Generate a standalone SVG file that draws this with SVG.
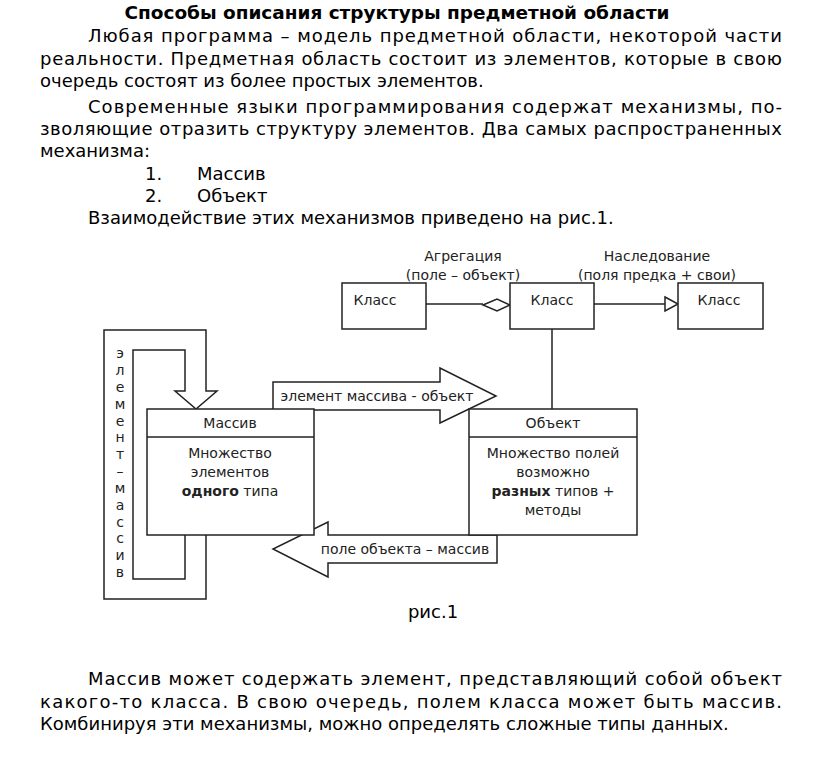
<svg xmlns="http://www.w3.org/2000/svg" width="816" height="759" viewBox="0 0 816 759">
<style>
.t{font-family:"DejaVu Sans",Verdana,sans-serif;font-size:18px;fill:#000}
.d{font-family:"DejaVu Sans",Verdana,sans-serif;font-size:14px;fill:#222;text-anchor:middle}
.b{fill:#fff;stroke:#222;stroke-width:1.5}
.l{fill:none;stroke:#222;stroke-width:1.5}
</style>
<rect width="816" height="759" fill="#fff"/>
<text class="t" x="397" y="19" text-anchor="middle" font-weight="bold" textLength="545" lengthAdjust="spacingAndGlyphs">Способы описания структуры предметной области</text>
<text class="t" x="88" y="42" textLength="694" lengthAdjust="spacing">Любая программа – модель предметной области, некоторой части</text>
<text class="t" x="40" y="65" textLength="742" lengthAdjust="spacing">реальности. Предметная область состоит из элементов, которые в свою</text>
<text class="t" x="40" y="87">очередь состоят из более простых элементов.</text>
<text class="t" x="88" y="113" textLength="694" lengthAdjust="spacing">Современные языки программирования содержат механизмы, по-</text>
<text class="t" x="40" y="135" textLength="742" lengthAdjust="spacing">зволяющие отразить структуру элементов. Два самых распространенных</text>
<text class="t" x="40" y="157">механизма:</text>
<text class="t" x="145" y="180">1.</text><text class="t" x="197" y="180">Массив</text>
<text class="t" x="145" y="202">2.</text><text class="t" x="197" y="202">Объект</text>
<text class="t" x="88" y="224">Взаимодействие этих механизмов приведено на рис.1.</text>

<g id="connectors">
<line class="l" x1="426" y1="304" x2="483" y2="304"/>
<polygon class="b" points="483,305 497,299 510,305 497,311"/>
<line class="l" x1="594" y1="304" x2="665" y2="304"/>
<polygon class="b" points="665,297 678,304 665,311"/>
<line class="l" x1="552" y1="329" x2="552" y2="409"/>
</g>
<g id="labels">
<text class="d" x="463" y="261">Агрегация</text>
<text class="d" x="463" y="280">(поле – объект)</text>
<text class="d" x="657" y="261">Наследование</text>
<text class="d" x="657" y="280">(поля предка + свои)</text>
</g>
<g id="class1"><rect class="b" x="342" y="283" width="84" height="46"/><text class="d" x="375" y="305">Класс</text></g>
<g id="class2"><rect class="b" x="510" y="283" width="84" height="46"/><text class="d" x="552" y="305">Класс</text></g>
<g id="class3"><rect class="b" x="678" y="283" width="85" height="46"/><text class="d" x="719" y="305">Класс</text></g>

<g id="arrow-right">
<polygon class="b" points="273,410 273,382 440,382 440,368 496,396 440,423 440,410"/>
<text class="d" x="377" y="401">элемент массива - объект</text>
</g>
<g id="arrow-left">
<polygon class="b" points="497,535 497,563 328,563 328,577 273,549 328,522 328,535"/>
<text class="d" x="405" y="554">поле объекта – массив</text>
</g>
<g id="loop">
<path class="l" d="M206,535 V599 H104 V330 H206 V391 H217 L196,409 L175,391 H185 V350 H133 V579 H185 V535"/>
<g class="d">
<text x="120" y="358">э</text><text x="120" y="375">л</text><text x="120" y="392">е</text><text x="120" y="409">м</text><text x="120" y="426">е</text><text x="120" y="442">н</text><text x="120" y="459">т</text><text x="120" y="476">–</text><text x="120" y="493">м</text><text x="120" y="510">а</text><text x="120" y="527">с</text><text x="120" y="543">с</text><text x="120" y="560">и</text><text x="120" y="577">в</text>
</g>
</g>
<g id="massiv">
<rect class="b" x="147" y="409" width="167" height="126"/>
<line class="l" x1="147" y1="437" x2="314" y2="437"/>
<text class="d" x="230" y="428">Массив</text>
<text class="d" x="230" y="458">Множество</text>
<text class="d" x="230" y="477">элементов</text>
<text class="d" x="230" y="496"><tspan font-weight="bold">одного</tspan> типа</text>
</g>
<g id="object">
<rect class="b" x="469" y="409" width="168" height="126"/>
<line class="l" x1="469" y1="437" x2="637" y2="437"/>
<text class="d" x="553" y="428">Объект</text>
<text class="d" x="553" y="458">Множество полей</text>
<text class="d" x="553" y="477">возможно</text>
<text class="d" x="553" y="496"><tspan font-weight="bold">разных</tspan> типов +</text>
<text class="d" x="553" y="515">методы</text>
</g>

<text class="t" x="433" y="618" text-anchor="middle">рис.1</text>
<text class="t" x="88" y="685" textLength="694" lengthAdjust="spacing">Массив может содержать элемент, представляющий собой объект</text>
<text class="t" x="40" y="708" textLength="742" lengthAdjust="spacing">какого-то класса. В свою очередь, полем класса может быть массив.</text>
<text class="t" x="40" y="730">Комбинируя эти механизмы, можно определять сложные типы данных.</text>
</svg>
